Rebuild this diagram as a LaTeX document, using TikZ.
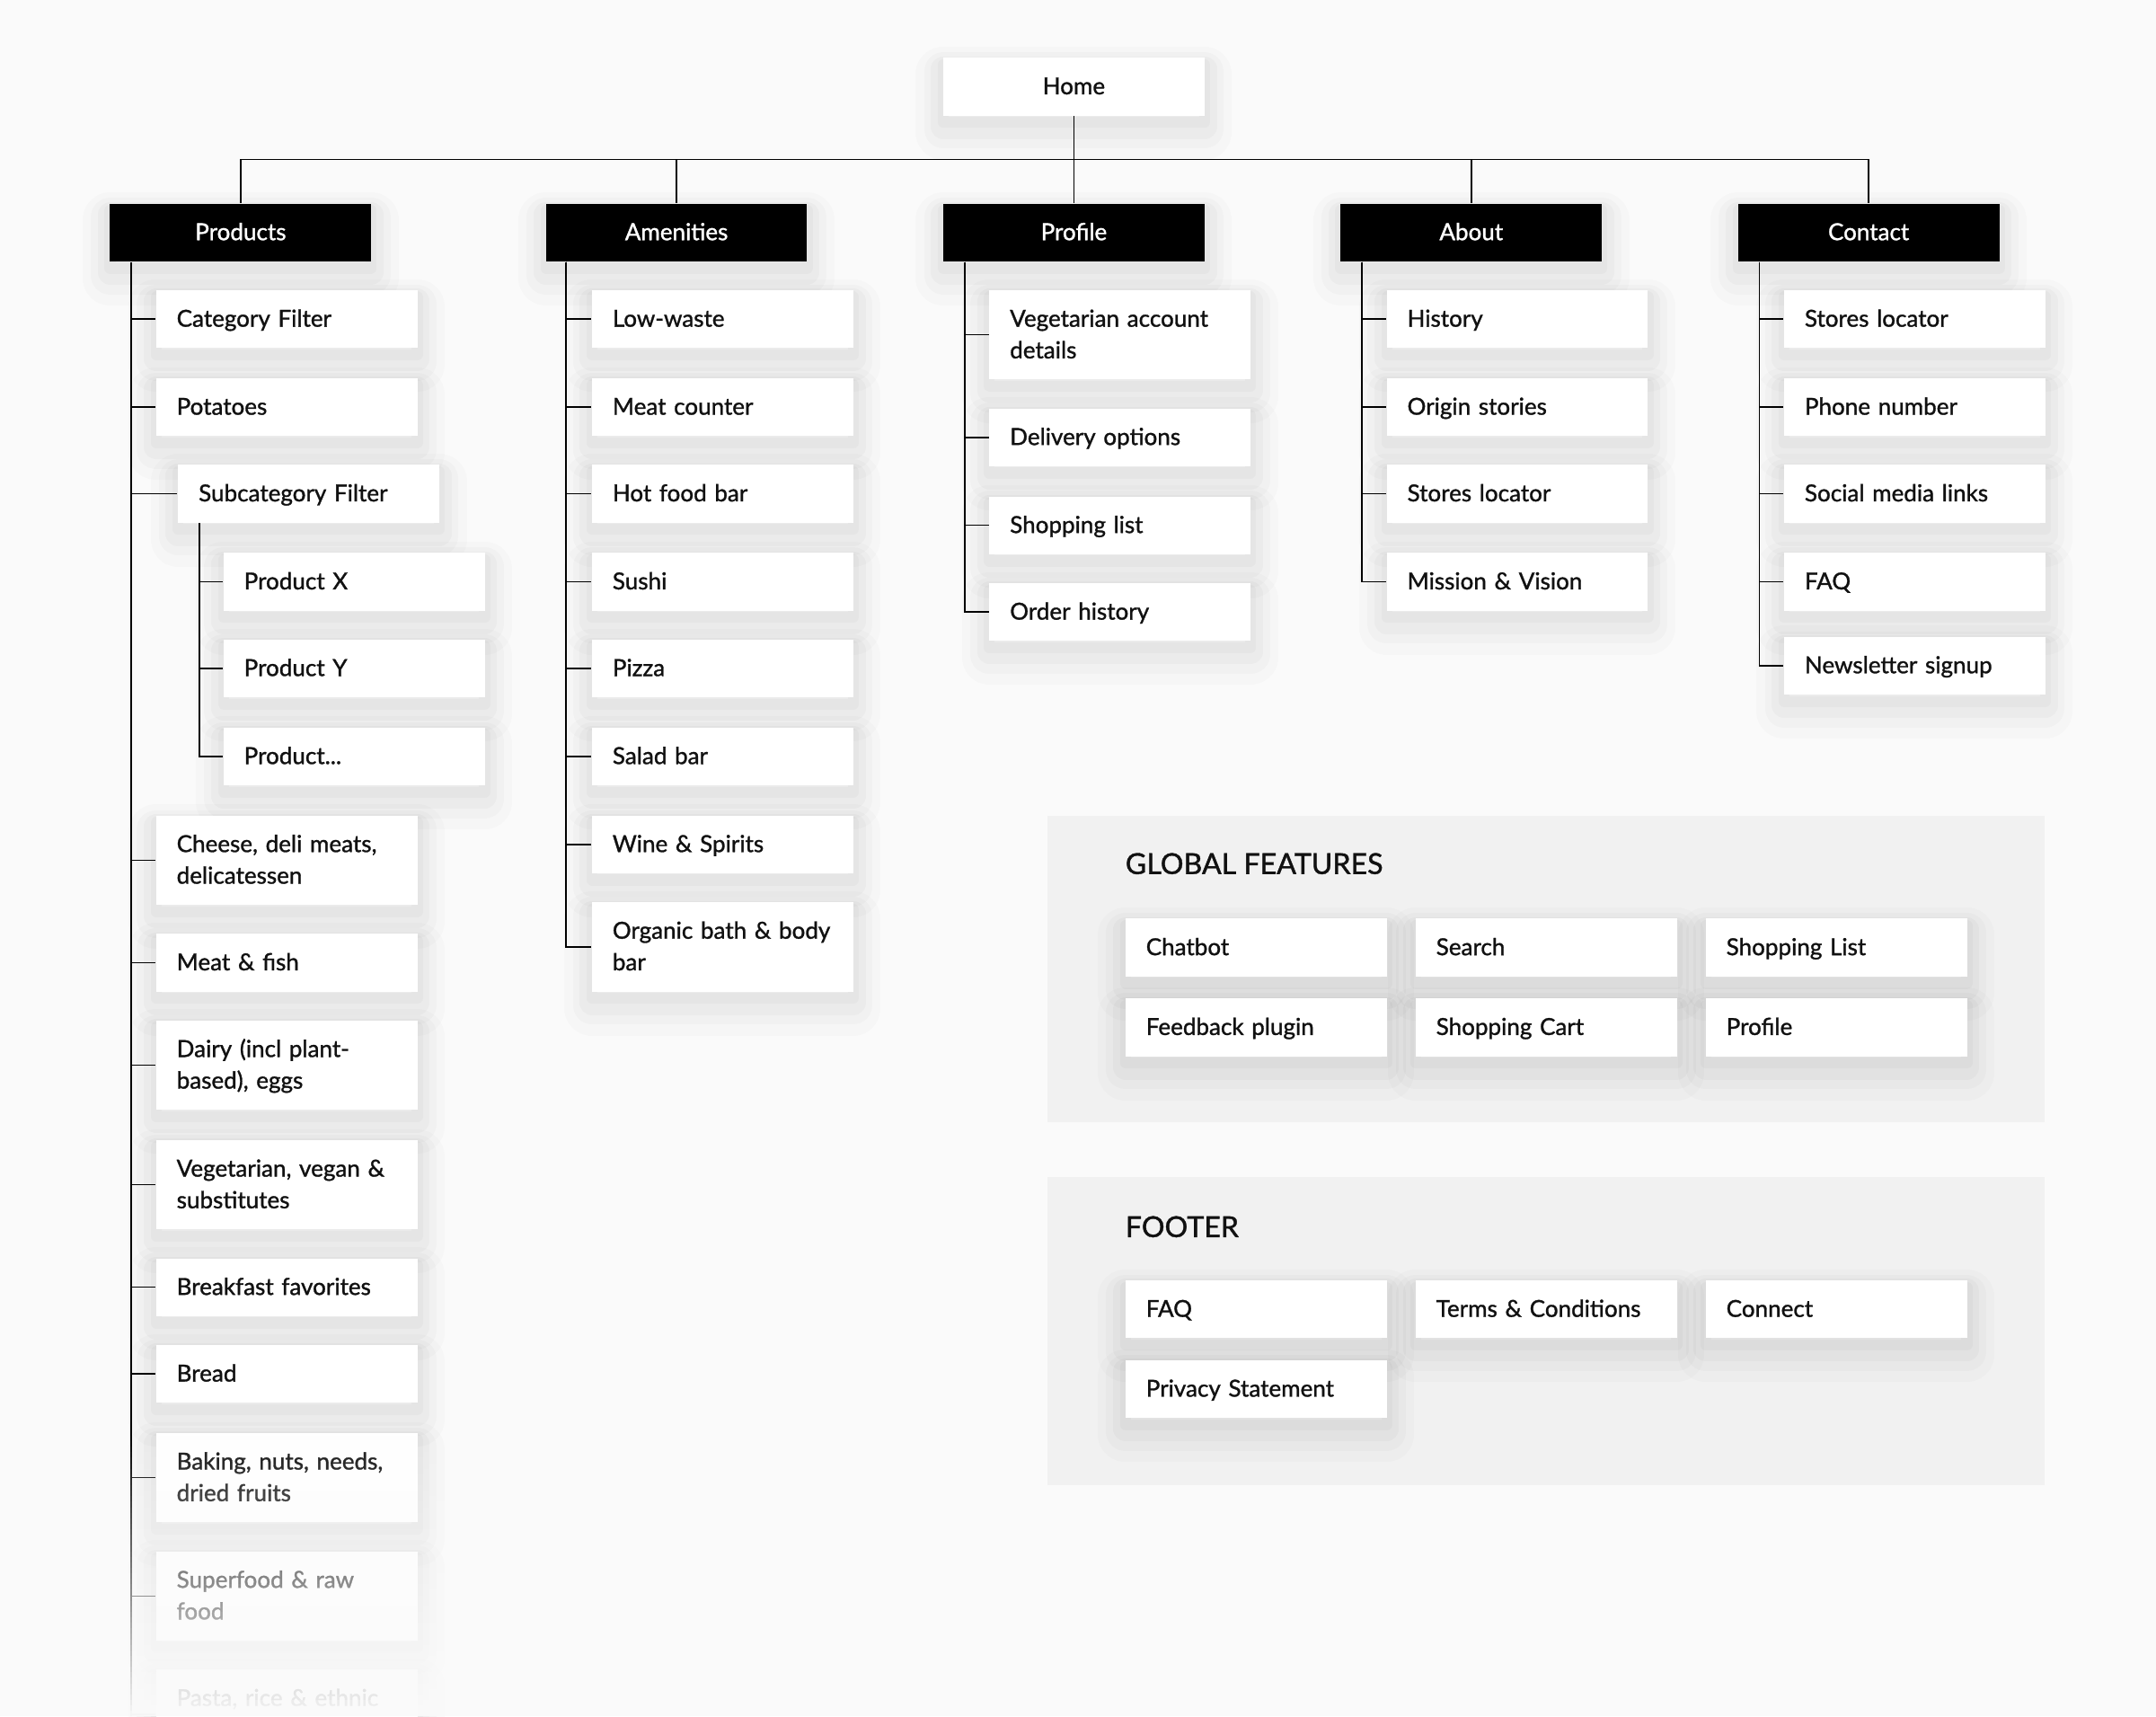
\documentclass[tikz,border=0pt]{standalone}
\usepackage{fontspec}
\setmainfont{Lato}[FakeBold=1.2]
\definecolor{pagebg}{HTML}{FAFAFA}
\definecolor{panelbg}{HTML}{F1F1F1}
\definecolor{inkc}{HTML}{111111}
\tikzset{every picture/.style={line width=1pt}}
\tikzset{
  soft/.style={
    preaction={draw=black, draw opacity=0.015, line width=40pt, line join=round, transform canvas={yshift=-12pt}},
    preaction={draw=black, draw opacity=0.02, line width=28pt, line join=round, transform canvas={yshift=-10pt}},
    preaction={draw=black, draw opacity=0.022, line width=18pt, line join=round, transform canvas={yshift=-8pt}},
    preaction={draw=black, draw opacity=0.025, line width=8pt, line join=round, transform canvas={yshift=-5pt}}},
  page/.style={fill=white, soft, minimum height=42, text width=160, inner xsep=15, inner ysep=0, align=left,
    font=\fontsize{17}{23}\selectfont, text=inkc, execute at begin node={\rule{0pt}{18pt}}, execute at end node=\strut},
  tall/.style={page, minimum height=65},
  head/.style={fill=black, soft, text=white, minimum width=190, minimum height=42, inner sep=0,
    font=\fontsize{17}{23}\selectfont, execute at begin node={\rule[-6.9pt]{0pt}{25pt}}},
  panel/.style={fill=panelbg},
  paneltitle/.style={anchor=west, inner sep=0, text=inkc, font=\fontsize{21}{26}\selectfont},
}

\begin{document}
\begin{tikzpicture}[x=1pt,y=1pt,yscale=-1,xscale=1]
	\useasboundingbox[fill=pagebg] (0,0) rectangle (1568,1248);

	%Panels
	\fill[panel] (762,593) rectangle (1487,816);
	\fill[panel] (762,856) rectangle (1487,1080);
	\node[paneltitle] (gtitle) at (818,628) {GLOBAL FEATURES};
	\node[paneltitle] (ftitle) at (818,892) {FOOTER};

	%Home and heads
	\node[page, align=center] (home) at (781,63) {Home};
	\node[head] (prod) at (175,169) {Products};
	\node[head] (amen) at (492,169) {Amenities};
	\node[head] (prof) at (781,169) {Profile};
	\node[head] (abt) at (1070,169) {About};
	\node[head] (cont) at (1359,169) {Contact};
	\coordinate (bar) at (781,116);
	\foreach \h in {prod,amen,prof,abt,cont}
		\draw (home.south) -- (home.south |- bar) -| (\h.north);

	%Products
	\node[page, anchor=west] (pr1) at (113,232) {Category Filter};
	\node[page, anchor=west] (pr2) at (113,296) {Potatoes};
	\node[page, anchor=west] (sub) at (129,359) {Subcategory Filter};
	\node[page, anchor=west] (sb1) at (162,423) {Product X};
	\node[page, anchor=west] (sb2) at (162,486) {Product Y};
	\node[page, anchor=west] (sb3) at (162,550) {Product...};
	\node[tall, anchor=west] (pr3) at (113,625.5) {Cheese, deli meats,\\ delicatessen};
	\node[page, anchor=west] (pr4) at (113,700) {Meat \& fish};
	\node[tall, anchor=west] (pr5) at (113,774.5) {Dairy (incl plant-\\ based), eggs};
	\node[tall, anchor=west] (pr6) at (113,861.5) {Vegetarian, vegan \&\\ substitutes};
	\node[page, anchor=west] (pr7) at (113,936) {Breakfast favorites};
	\node[page, anchor=west] (pr8) at (113,999) {Bread};
	\node[tall, anchor=west] (pr9) at (113,1074.5) {Baking, nuts, needs,\\ dried fruits};
	\node[tall, anchor=west] (pr10) at (113,1160.5) {Superfood \& raw\\ food};
	\node[tall, anchor=west] (pr11) at (113,1246.5) {Pasta, rice \& ethnic\\ \mbox{}};
	\coordinate (spP) at ([xshift=16pt]prod.south west);
	\coordinate (spPend) at (spP |- 0,1248);
	\draw (spP) -- (spPend);
	\foreach \n in {pr1,pr2,sub,pr3,pr4,pr5,pr6,pr7,pr8,pr9,pr10,pr11}
		\draw (spP |- \n.west) -- (\n.west);
	\coordinate (spS) at ([xshift=16pt]sub.south west);
	\foreach \n in {sb1,sb2,sb3}
		\draw (spS) |- (\n.west);

	%Amenities
	\node[page, anchor=west] (am1) at (430,232) {Low-waste};
	\node[page, anchor=west] (am2) at (430,296) {Meat counter};
	\node[page, anchor=west] (am3) at (430,359) {Hot food bar};
	\node[page, anchor=west] (am4) at (430,423) {Sushi};
	\node[page, anchor=west] (am5) at (430,486) {Pizza};
	\node[page, anchor=west] (am6) at (430,550) {Salad bar};
	\node[page, anchor=west] (am7) at (430,614) {Wine \& Spirits};
	\node[tall, anchor=west] (am8) at (430,688.5) {Organic bath \& body\\ bar};
	\coordinate (spA) at ([xshift=15pt]amen.south west);
	\foreach \n in {am1,am2,am3,am4,am5,am6,am7,am8}
		\draw (spA) |- (\n.west);

	%Profile
	\node[tall, anchor=west] (pf1) at (719,243.5) {Vegetarian account\\ details};
	\node[page, anchor=west] (pf2) at (719,318) {Delivery options};
	\node[page, anchor=west] (pf3) at (719,382) {Shopping list};
	\node[page, anchor=west] (pf4) at (719,445) {Order history};
	\coordinate (spF) at ([xshift=16pt]prof.south west);
	\foreach \n in {pf1,pf2,pf3,pf4}
		\draw (spF) |- (\n.west);

	%About
	\node[page, anchor=west] (ab1) at (1008,232) {History};
	\node[page, anchor=west] (ab2) at (1008,296) {Origin stories};
	\node[page, anchor=west] (ab3) at (1008,359) {Stores locator};
	\node[page, anchor=west] (ab4) at (1008,423) {Mission \& Vision};
	\coordinate (spB) at ([xshift=16pt]abt.south west);
	\foreach \n in {ab1,ab2,ab3,ab4}
		\draw (spB) |- (\n.west);

	%Contact
	\node[page, anchor=west] (ct1) at (1297,232) {Stores locator};
	\node[page, anchor=west] (ct2) at (1297,296) {Phone number};
	\node[page, anchor=west] (ct3) at (1297,359) {Social media links};
	\node[page, anchor=west] (ct4) at (1297,423) {FAQ};
	\node[page, anchor=west] (ct5) at (1297,484) {Newsletter signup};
	\coordinate (spC) at ([xshift=16pt]cont.south west);
	\foreach \n in {ct1,ct2,ct3,ct4,ct5}
		\draw (spC) |- (\n.west);

	%Global features
	\node[page, anchor=west] (gf1) at (818,689) {Chatbot};
	\node[page, anchor=west] (gf2) at (1029,689) {Search};
	\node[page, anchor=west] (gf3) at (1240,689) {Shopping List};
	\node[page, anchor=west] (gf4) at (818,747) {Feedback plugin};
	\node[page, anchor=west] (gf5) at (1029,747) {Shopping Cart};
	\node[page, anchor=west] (gf6) at (1240,747) {Profile};

	%Footer
	\node[page, anchor=west] (ft1) at (818,952) {FAQ};
	\node[page, anchor=west] (ft2) at (1029,952) {Terms \& Conditions};
	\node[page, anchor=west] (ft3) at (1240,952) {Connect};
	\node[page, anchor=west] (ft4) at (818,1010) {Privacy Statement};

	%fade out at the bottom
	\foreach \i in {0,...,51}
		\fill[pagebg, opacity=\i/52] (0,1040+4*\i) rectangle (740,1044+4*\i);
\end{tikzpicture}
\end{document}
